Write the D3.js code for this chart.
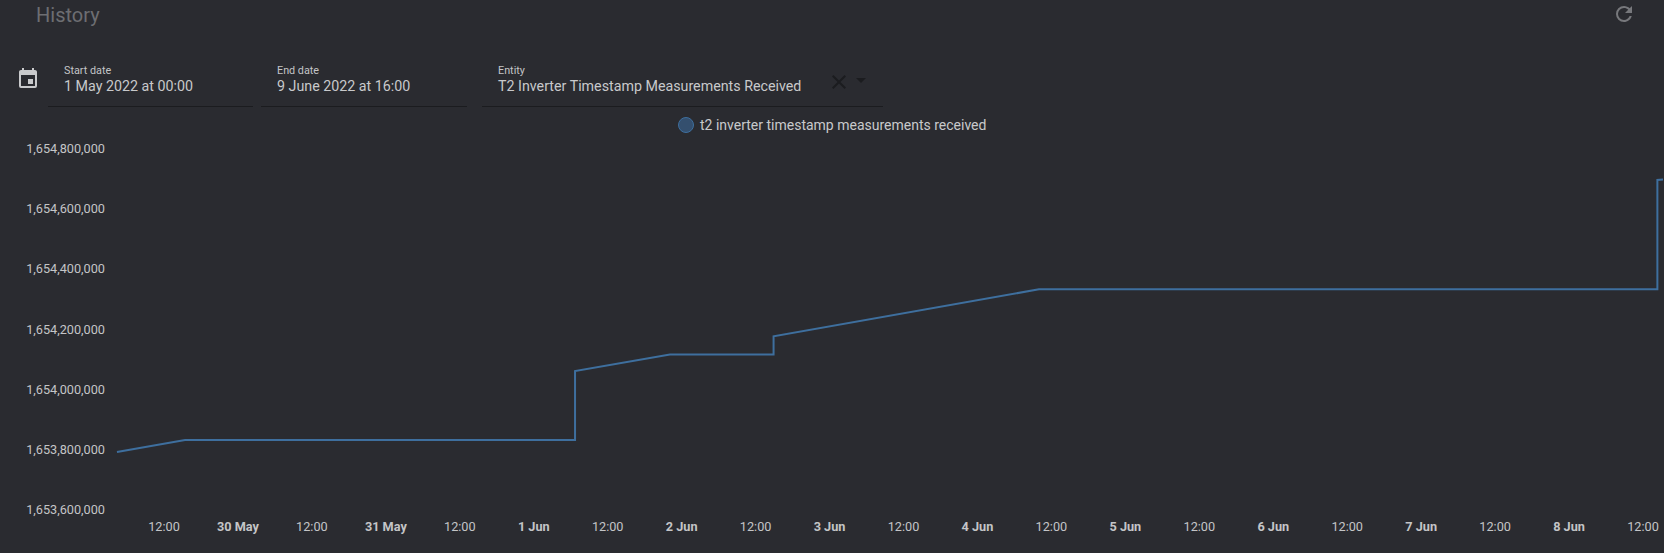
<!DOCTYPE html>
<html lang="en">
<head>
    <meta charset="UTF-8">
    <title>History</title>
    <script src="https://d3js.org/d3.v7.min.js"></script>
    <style>
        html, body { margin: 0; background: #2a2b30; overflow: hidden; }
        svg { display: block; font-family: Roboto, sans-serif; }
        .tick text { font-family: Roboto, sans-serif; font-size: 12.7px; fill: #c4c5c7; }
        .tick text.day { font-weight: bold; }
        .domain, .tick line { display: none; }
    </style>
</head>
<body>

<svg width="1664" height="553"></svg>

<script>

    var seriesName = "t2 inverter timestamp measurements received";
    var times = ["2022-05-29T04:22Z", "2022-05-29T15:25Z", "2022-06-01T06:42Z", "2022-06-01T06:42Z",
        "2022-06-01T22:06Z", "2022-06-02T14:55Z", "2022-06-02T14:55Z", "2022-06-04T09:59Z",
        "2022-06-08T14:20Z", "2022-06-08T14:20Z", "2022-06-08T15:15Z"];
    var values = [1653792500, 1653832400, 1653832400, 1654061400,
        1654116200, 1654116200, 1654176300, 1654332600,
        1654332600, 1654695400, 1654697000];
    var yTicks = [1653600000, 1653800000, 1654000000, 1654200000, 1654400000, 1654600000, 1654800000];
    var xTicks = ["2022-05-29T12:00Z", "2022-05-30T00:00Z", "2022-05-30T12:00Z", "2022-05-31T00:00Z",
        "2022-05-31T12:00Z", "2022-06-01T00:00Z", "2022-06-01T12:00Z", "2022-06-02T00:00Z",
        "2022-06-02T12:00Z", "2022-06-03T00:00Z", "2022-06-03T12:00Z", "2022-06-04T00:00Z",
        "2022-06-04T12:00Z", "2022-06-05T00:00Z", "2022-06-05T12:00Z", "2022-06-06T00:00Z",
        "2022-06-06T12:00Z", "2022-06-07T00:00Z", "2022-06-07T12:00Z", "2022-06-08T00:00Z",
        "2022-06-08T12:00Z"];

    var svg = d3.select("svg");

    var x = d3.scaleUtc()
        .domain([new Date("2022-05-29T12:00Z"), new Date("2022-06-08T12:00Z")])
        .range([164, 1643]);
    var y = d3.scaleLinear()
        .domain([1653600000, 1654800000])
        .range([510, 148.5]);

    // axes
    var xAxis = d3.axisBottom(x)
        .tickValues(xTicks.map(function(t) { return new Date(t); }))
        .tickSize(0)
        .tickFormat(function(d) {
            return d.getUTCHours() === 12 ? "12:00" : d3.utcFormat("%-d %b")(d);
        });
    var xg = svg.append("g")
        .attr("transform", "translate(-0.5,516.6)")
        .call(xAxis);
    xg.selectAll(".tick text")
        .attr("dy", "0.71em")
        .attr("y", 5)
        .classed("day", function(d) { return d.getUTCHours() !== 12; });

    var yg = svg.append("g")
        .attr("transform", "translate(105,-0.3)")
        .call(d3.axisLeft(y).tickValues(yTicks).tickSize(0).tickPadding(0).tickFormat(d3.format(",")));

    // series line
    var line = d3.line()
        .x(function(d, i) { return x(new Date(times[i])); })
        .y(function(d) { return y(d); });

    svg.append("path")
        .attr("d", line(values))
        .attr("fill", "none")
        .attr("stroke", "#3e6f9e")
        .attr("stroke-width", 2);

    // legend
    svg.append("circle")
        .attr("cx", 686).attr("cy", 125).attr("r", 7.5)
        .attr("fill", "#344f6e")
        .attr("stroke", "#3e6f9e")
        .attr("stroke-width", 1);
    svg.append("text")
        .attr("x", 700).attr("y", 130)
        .attr("font-size", 14).attr("fill", "#c8c9cb")
        .text(seriesName);

    // page header and date / entity pickers
    svg.append("text")
        .attr("x", 36).attr("y", 22)
        .attr("font-size", 20).attr("fill", "#6d6e72")
        .text("History");

    var refresh = "M17.65,6.35C16.2,4.9 14.21,4 12,4A8,8 0 0,0 4,12A8,8 0 0,0 12,20C15.73,20 18.84,17.45 19.73,14H17.65C16.83,16.33 14.61,18 12,18A6,6 0 0,1 6,12A6,6 0 0,1 12,6C13.66,6 15.14,6.69 16.22,7.78L13,11H20V4L17.65,6.35Z";
    var calendar = "M19,19H5V8H19M16,1V3H8V1H6V3H5C3.89,3 3,3.89 3,5V19A2,2 0 0,0 5,21H19A2,2 0 0,0 21,19V5C21,3.89 20.1,3 19,3H18V1M17,12H12V17H17V12Z";
    var close = "M19,6.41L17.59,5L12,10.59L6.41,5L5,6.41L10.59,12L5,17.59L6.41,19L12,13.41L17.59,19L19,17.59L13.41,12L19,6.41Z";

    svg.append("path").attr("d", refresh).attr("fill", "#77787c")
        .attr("transform", "translate(1612,2)");
    svg.append("path").attr("d", calendar).attr("fill", "#c9cacc")
        .attr("transform", "translate(16,67)");
    svg.append("path").attr("d", close).attr("fill", "#1b1c1f")
        .attr("transform", "translate(827,70)");
    svg.append("path").attr("d", "M0,0H10L5,5Z").attr("fill", "#1b1c1f")
        .attr("transform", "translate(856,78)");

    var fields = [
        {label: "Start date", value: "1 May 2022 at 00:00", lx: 64, x1: 48, x2: 253},
        {label: "End date", value: "9 June 2022 at 16:00", lx: 277, x1: 261, x2: 467},
        {label: "Entity", value: "T2 Inverter Timestamp Measurements Received", lx: 498, x1: 482, x2: 883}
    ];
    fields.forEach(function(f) {
        svg.append("text").attr("x", f.lx).attr("y", 74)
            .attr("font-size", 10.8).attr("fill", "#c4c5c7").text(f.label);
        svg.append("text").attr("x", f.lx).attr("y", 91)
            .attr("font-size", 14.25).attr("fill", "#c8c9cb").text(f.value);
        svg.append("line")
            .attr("x1", f.x1).attr("x2", f.x2)
            .attr("y1", 106.5).attr("y2", 106.5)
            .attr("stroke", "#1b1c1f");
    });

</script>

</body>
</html>
